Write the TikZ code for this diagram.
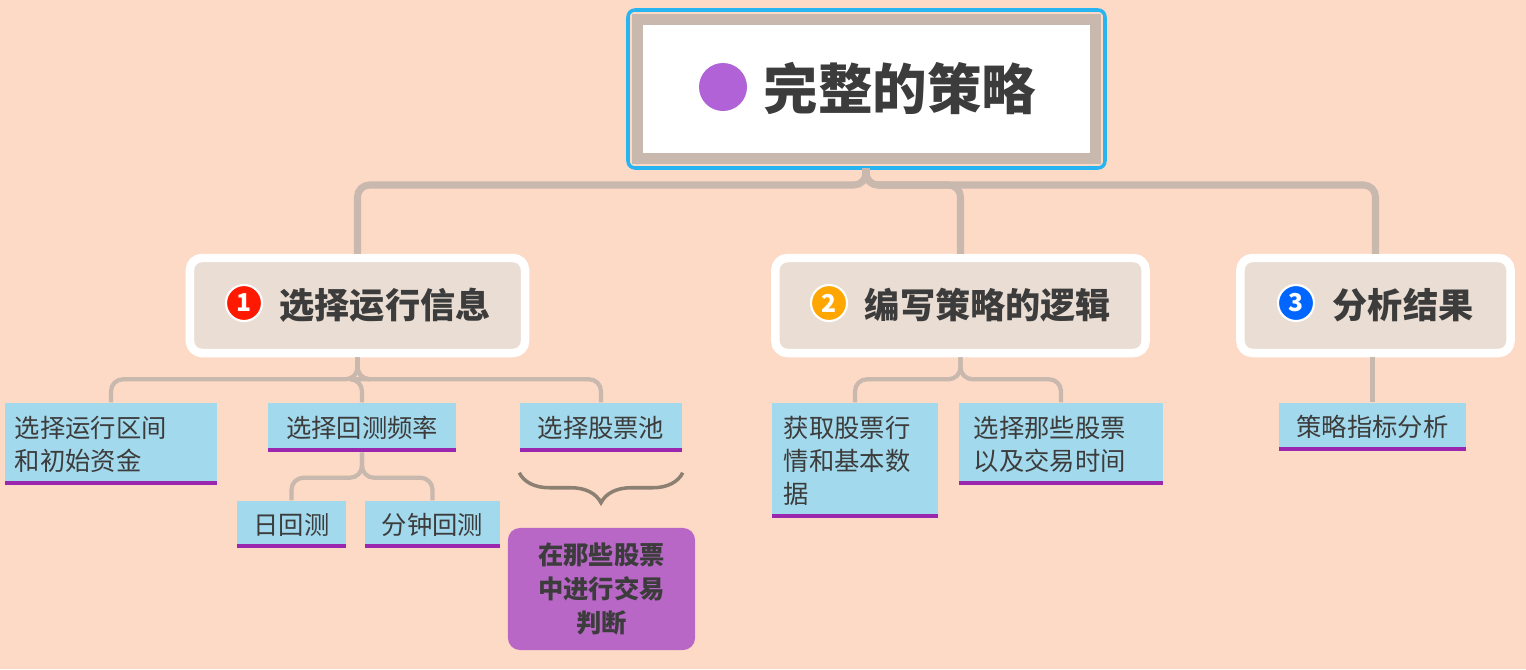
\documentclass[tikz,border=0pt]{standalone}
\usepackage{fontspec}
\setmainfont{Noto Sans CJK SC}
\usetikzlibrary{positioning,calc,decorations.pathreplacing}
\definecolor{bgpeach}{RGB}{253,218,197}
\definecolor{linegray}{RGB}{200,184,174}
\definecolor{boxtan}{RGB}{234,222,212}
\definecolor{leafblue}{RGB}{163,217,236}
\definecolor{leafline}{RGB}{155,39,175}
\definecolor{dotpurple}{RGB}{176,98,214}
\definecolor{notepurple}{RGB}{185,103,199}
\definecolor{rootcyan}{RGB}{40,180,240}
\definecolor{txt}{RGB}{60,60,60}
\tikzset{
  link/.style={draw=linegray, line width=2pt, rounded corners=0.12cm},
  sublink/.style={draw=linegray, line width=1.2pt, rounded corners=0.12cm},
  branch/.style={draw=white, line width=2.4pt, fill=boxtan, rounded corners=0.12cm,
    minimum height=0.95cm, font=\fontsize{10}{11}\selectfont\bfseries, text=txt},
  leaf/.style={fill=leafblue, inner sep=0pt, text=txt, align=left,
    font=\fontsize{7.2}{9.4}\selectfont,
    path picture={\fill[leafline] (path picture bounding box.south west) rectangle
      ([yshift=0.04cm]path picture bounding box.south east);}},
  numdot/.style={circle, draw=white, line width=0.6pt, inner sep=0pt, minimum size=0.36cm,
    text=white, font=\fontsize{7}{7}\selectfont\bfseries}
}
\begin{document}
\begin{tikzpicture}[x=0.01cm, y=-0.01cm]
  \fill[bgpeach] (0,0) rectangle (1526,669);
  \useasboundingbox (0,0) rectangle (1526,669);
  % root
  \draw[rootcyan, line width=1pt, rounded corners=2pt] (628,10) rectangle (1105,168);
  \draw[linegray, line width=3pt, fill=white] (637.5,19.5) rectangle (1095.5,158.5);
  \node (root) at (900,88) {\fontsize{15.5}{18}\selectfont\bfseries\color{txt}完整的策略};
  \fill[dotpurple] (723,87) circle (24);
  \coordinate (rootb) at (866,168);
  % branches
  \node[branch, minimum width=3.35cm] (b1) at (357.5,305.5) {\hspace{0.55cm}选择运行信息};
  \node[branch, minimum width=3.7cm] (b2) at (960.5,305.5) {\hspace{0.55cm}编写策略的逻辑};
  \node[branch, minimum width=2.7cm] (b3) at (1375.5,305.5) {\hspace{0.55cm}分析结果};
  \node[numdot, fill=red!80!orange] at (244,303) {1};
  \node[numdot, fill=orange!70!yellow] at (829,303) {2};
  \node[numdot, fill=blue!60!cyan] at (1296,303) {3};
  \draw[link] (rootb) -- ++(0,17) -| (b1.north);
  \draw[link] (rootb) -- ++(0,17) -| (b2.north);
  \draw[link] (rootb) -- ++(0,17) -| (b3.north);
  % leaves
  \node[leaf, minimum width=2.12cm, minimum height=0.82cm, text width=1.92cm] (l1) at (111,444) {选择运行区间\\和初始资金};
  \node[leaf, minimum width=1.88cm, minimum height=0.49cm, align=center] (l2) at (362,427.5) {选择回测频率};
  \node[leaf, minimum width=1.62cm, minimum height=0.49cm, align=center] (l3) at (601,427.5) {选择股票池};
  \node[leaf, minimum width=1.09cm, minimum height=0.47cm, align=center] (l21) at (291.5,524.5) {日回测};
  \node[leaf, minimum width=1.35cm, minimum height=0.47cm, align=center] (l22) at (432.5,524.5) {分钟回测};
  \node[leaf, minimum width=1.66cm, minimum height=1.15cm, text width=1.42cm] (l4) at (855,460.5) {获取股票行\\情和基本数\\据};
  \node[leaf, minimum width=2.04cm, minimum height=0.82cm, text width=1.74cm] (l5) at (1061,444) {选择那些股票\\以及交易时间};
  \node[leaf, minimum width=1.87cm, minimum height=0.48cm, align=center] (l6) at (1372.5,427) {策略指标分析};
  \draw[sublink] (b1.south) -- ++(0,22) -| (l1.north);
  \draw[sublink] (b1.south) -- ++(0,22) -| (l2.north);
  \draw[sublink] (b1.south) -- ++(0,22) -| (l3.north);
  \draw[sublink] (l2.south) -- ++(0,25) -| (l21.north);
  \draw[sublink] (l2.south) -- ++(0,25) -| (l22.north);
  \draw[sublink] (b2.south) -- ++(0,22) -| (l4.north);
  \draw[sublink] (b2.south) -- ++(0,22) -| (l5.north);
  \draw[sublink] (b3.south -| l6.north) -- (l6.north);
  % note
  \draw[gray!80!brown, line width=1pt, decorate, decoration={brace, mirror, amplitude=0.3cm}]
    ([yshift=-0.2cm]l3.south west) -- ([yshift=-0.2cm]l3.south east);
  \node[fill=notepurple, rounded corners=0.12cm, minimum width=1.87cm, minimum height=1.22cm,
    align=center, text=txt, font=\fontsize{7.2}{9.8}\selectfont\bfseries] (note) at (601.5,589) {在那些股票\\中进行交易\\判断};
\end{tikzpicture}
\end{document}
